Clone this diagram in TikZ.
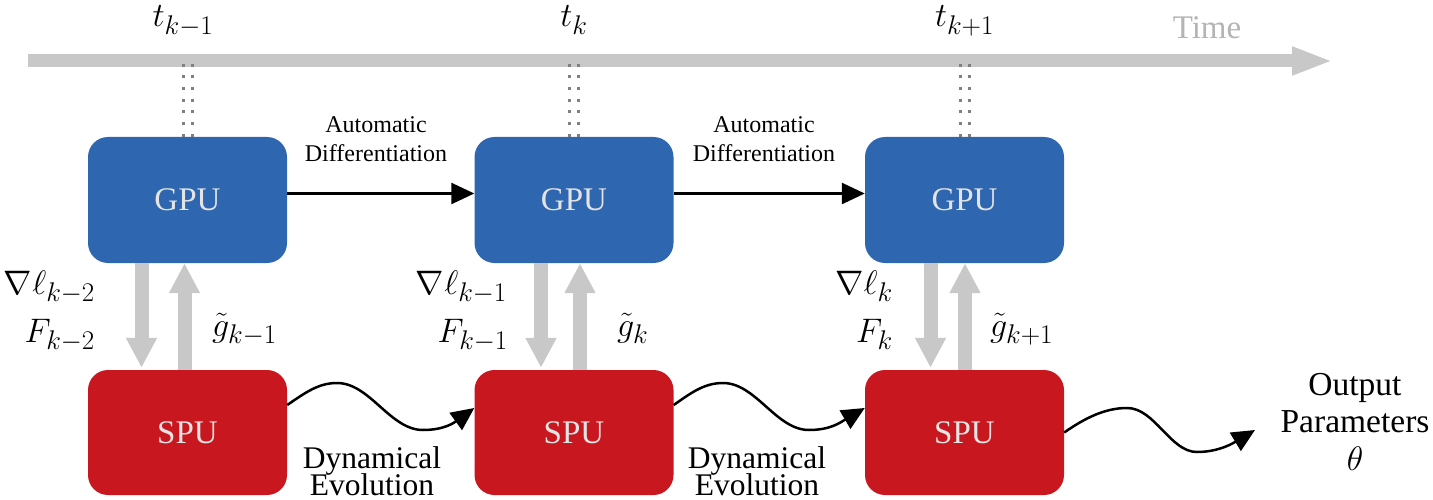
\RequirePackage{fix-cm}
\documentclass[tikz,border=0pt]{standalone}
\usepackage[no-math]{fontspec}
\setmainfont{Liberation Serif}
\DeclareMathSizes{34}{34}{27}{21}
\usetikzlibrary{arrows.meta}
\definecolor{gpublue}{RGB}{46,102,176}
\definecolor{spured}{RGB}{200,23,31}
\definecolor{arrgray}{RGB}{200,200,200}
\definecolor{timegray}{RGB}{180,180,180}
\definecolor{dotgray}{RGB}{128,128,128}
\definecolor{boxtext}{RGB}{228,228,228}
\begin{document}
\begin{tikzpicture}[x=1pt,y=1pt,
  box/.style={rounded corners=20pt, minimum width=199pt, minimum height=126pt, inner sep=0pt, text=boxtext, font=\fontsize{33}{38}\selectfont},
  gpu/.style={box, fill=gpublue},
  spu/.style={box, fill=spured, minimum height=125pt},
  fat/.style={line width=14pt, draw=arrgray, -{Triangle[length=30pt,width=29pt]}},
  blk/.style={line width=2.5pt, -{Triangle[length=23pt,width=21pt]}},
  lbl/.style={font=\fontsize{24}{28}\selectfont, inner sep=0pt},
  big/.style={font=\fontsize{33.5}{36}\selectfont, inner sep=0pt},
  dyn/.style={font=\fontsize{31.5}{34}\selectfont, inner sep=0pt},
  mth/.style={font=\fontsize{34}{36}\selectfont, inner sep=0pt},
  dots/.style={draw=dotgray, line width=3pt, dash pattern=on 3pt off 8.7pt}
]
\useasboundingbox (0,0) rectangle (1433,-500);

% time axis
\coordinate (tstart) at (28,-61);
\coordinate (tend) at (1333,-61);
\draw[line width=13pt, draw=arrgray, -{Triangle[length=41pt,width=26pt]}] (tstart) -- (tend);
\node[text=timegray, font=\fontsize{33}{36}\selectfont, inner sep=0pt, anchor=base] (time) at (1207,-39) {Time};

% boxes
\node[gpu] (gpu1) at (187.5,-200) {GPU};
\node[gpu] (gpu2) at (574,-200) {GPU};
\node[gpu] (gpu3) at (964.5,-200) {GPU};
\node[spu] (spu1) at (187.5,-432.5) {SPU};
\node[spu] (spu2) at (574,-432.5) {SPU};
\node[spu] (spu3) at (964.5,-432.5) {SPU};

% time labels
\node[mth, anchor=base] (t1) at (183,-27) {$t_{k-1}$};
\node[mth, anchor=base] (t2) at (574,-27) {$t_{k}$};
\node[mth, anchor=base] (t3) at (964.5,-27) {$t_{k+1}$};

% dotted lines
\foreach \g in {gpu1,gpu2,gpu3}{
  \draw[dots] ([xshift=-4.5pt]\g.north) -- ++(0,80);
  \draw[dots] ([xshift=4.5pt]\g.north) -- ++(0,80);
}

% automatic differentiation arrows
\draw[blk] ([yshift=6.5pt]gpu1.east) -- ([yshift=6.5pt]gpu2.west);
\draw[blk] ([yshift=6.5pt]gpu2.east) -- ([yshift=6.5pt]gpu3.west);
\node[lbl, anchor=base] (ad1a) at (376,-133) {Automatic};
\node[lbl, anchor=base] (ad1b) at (376,-162) {Differentiation};
\node[lbl, anchor=base] (ad2a) at (764,-133) {Automatic};
\node[lbl, anchor=base] (ad2b) at (764,-162) {Differentiation};

% gray vertical arrows
\draw[fat] ([xshift=-46pt]gpu1.south) -- ([xshift=-46pt,yshift=2pt]spu1.north);
\draw[fat] ([xshift=-3pt]spu1.north) -- ([xshift=-3pt]gpu1.south);
\draw[fat] ([xshift=-33pt]gpu2.south) -- ([xshift=-33pt,yshift=2pt]spu2.north);
\draw[fat] ([xshift=6pt]spu2.north) -- ([xshift=6pt]gpu2.south);
\draw[fat] ([xshift=-34pt]gpu3.south) -- ([xshift=-34pt,yshift=2pt]spu3.north);
\draw[fat] ([xshift=0.5pt]spu3.north) -- ([xshift=0.5pt]gpu3.south);

% math labels
\node[mth, anchor=base east] (n1) at (95,-294) {$\nabla\ell_{k-2}$};
\node[mth, anchor=base east] (f1) at (95,-342) {$F_{k-2}$};
\node[mth, anchor=base west] (g1) at (212,-336) {$\tilde g_{k-1}$};
\node[mth, anchor=base east] (n2) at (507,-294) {$\nabla\ell_{k-1}$};
\node[mth, anchor=base east] (f2) at (508,-342) {$F_{k-1}$};
\node[mth, anchor=base west] (g2) at (617,-336) {$\tilde g_{k}$};
\node[mth, anchor=base east] (n3) at (893,-294) {$\nabla\ell_{k}$};
\node[mth, anchor=base east] (f3) at (893,-342) {$F_{k}$};
\node[mth, anchor=base west] (g3) at (990,-336) {$\tilde g_{k+1}$};

% dynamical evolution waves
\draw[blk] ([yshift=27.5pt]spu1.east) .. controls (305,-393) and (318,-383) .. (337,-383)
  .. controls (370,-383) and (390,-430) .. (423,-430)
  .. controls (445,-430) and (455,-422) .. ([yshift=24.5pt]spu2.west);
\draw[blk] ([yshift=27.5pt]spu2.east) .. controls (691,-393) and (704,-383) .. (723,-383)
  .. controls (756,-383) and (776,-430) .. (809,-430)
  .. controls (831,-430) and (841,-422) .. ([yshift=24.5pt]spu3.west);
\coordinate (outp) at (1255,-430);
\draw[blk] (spu3.east) .. controls (1085,-418) and (1105,-408) .. (1127,-408)
  .. controls (1155,-408) and (1170,-452) .. (1197,-452)
  .. controls (1220,-452) and (1235,-442) .. (outp);

\node[dyn, anchor=base] (de1a) at (372,-468) {Dynamical};
\node[dyn, anchor=base] (de1b) at (372,-495) {Evolution};
\node[dyn, anchor=base] (de2a) at (757,-468) {Dynamical};
\node[dyn, anchor=base] (de2b) at (757,-495) {Evolution};

\node[big, anchor=base] (o1) at (1355,-395) {Output};
\node[big, anchor=base] (o2) at (1355,-432) {Parameters};
\node[mth, anchor=base] (o3) at (1355,-470) {$\theta$};
\end{tikzpicture}
\end{document}
